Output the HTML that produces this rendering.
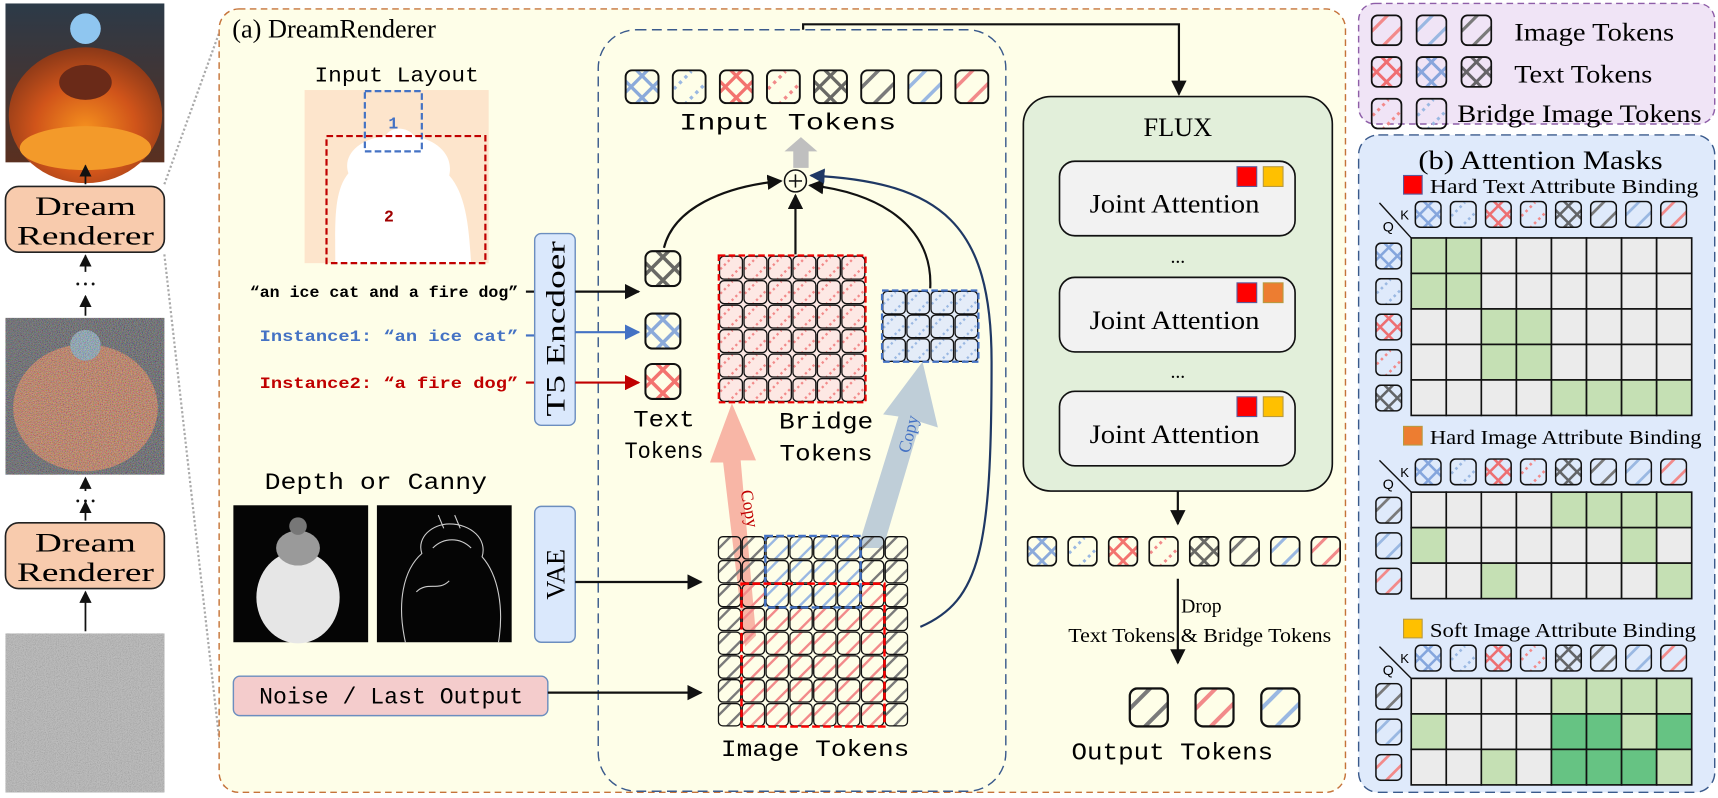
<!DOCTYPE html>
<html><head><meta charset="utf-8">
<style>
html,body{margin:0;padding:0;background:#fff;}
svg{display:block;}
.serif{font-family:"Liberation Serif",serif;}
.mono{font-family:"Liberation Mono",monospace;}
</style></head>
<body>
<svg id="s" width="1718" height="798" viewBox="0 0 1568 728" xmlns="http://www.w3.org/2000/svg">
<defs>
<clipPath id="cp"><rect x="1" y="1" width="30" height="30" rx="6"/></clipPath>
<marker id="ah" viewBox="0 0 10 10" refX="9" refY="5" markerWidth="7" markerHeight="7" orient="auto-start-reverse"><path d="M0 0 L10 5 L0 10 z" fill="#111"/></marker>
<marker id="ahb" viewBox="0 0 10 10" refX="9" refY="5" markerWidth="7" markerHeight="7" orient="auto"><path d="M0 0 L10 5 L0 10 z" fill="#4472c4"/></marker>
<marker id="ahr" viewBox="0 0 10 10" refX="9" refY="5" markerWidth="7" markerHeight="7" orient="auto"><path d="M0 0 L10 5 L0 10 z" fill="#c00000"/></marker>
<marker id="ahn" viewBox="0 0 10 10" refX="9" refY="5" markerWidth="7" markerHeight="7" orient="auto"><path d="M0 0 L10 5 L0 10 z" fill="#1f3864"/></marker>
<radialGradient id="dog" cx="0.5" cy="0.6" r="0.6"><stop offset="0" stop-color="#f5901e"/><stop offset="0.55" stop-color="#d0541a"/><stop offset="1" stop-color="#8a3818"/></radialGradient>
<linearGradient id="sky" x1="0" y1="0" x2="0" y2="1"><stop offset="0" stop-color="#2c3a48"/><stop offset="1" stop-color="#5a3020"/></linearGradient>
<filter id="noise" x="0" y="0" width="1" height="1"><feTurbulence type="fractalNoise" baseFrequency="1.2" numOctaves="1" seed="3"/><feColorMatrix type="matrix" values="0 0 0 0 0.5  0 0 0 0 0.5  0 0 0 0 0.5  0.6 0.6 0.6 0 0"/><feComposite in2="SourceGraphic" operator="in"/></filter>
<filter id="noise2" x="0" y="0" width="1" height="1"><feTurbulence type="fractalNoise" baseFrequency="1.1" numOctaves="1" seed="7"/><feColorMatrix type="matrix" values="1.6 0 0 0 -0.3  0 1.6 0 0 -0.3  0 0 1.6 0 -0.3  0 0 0 0 0.5"/><feComposite in2="SourceGraphic" operator="in"/></filter>
</defs>

<!-- left column -->
<rect x="5" y="3" width="145" height="145" fill="url(#sky)"/>
<ellipse cx="78" cy="105" rx="70" ry="62" fill="url(#dog)"/>
<ellipse cx="78" cy="135" rx="60" ry="20" fill="#f39a2a"/>
<ellipse cx="78" cy="26" rx="14" ry="14" fill="#8fc6f0"/>
<ellipse cx="78" cy="75" rx="24" ry="16" fill="#6a2a18"/>
<rect x="5" y="290" width="145" height="143" fill="#2f3038"/>
<ellipse cx="78" cy="372" rx="66" ry="58" fill="#b8562a"/>
<ellipse cx="78" cy="315" rx="14" ry="14" fill="#6a90a8"/>
<rect x="5" y="290" width="145" height="143" fill="#fff" filter="url(#noise2)"/>
<rect x="5" y="578" width="145" height="145" fill="#7a7a7a"/>
<rect x="5" y="578" width="145" height="145" fill="#fff" filter="url(#noise)"/>

<rect x="5" y="170" width="145" height="60" rx="12" fill="#f8cbad" stroke="#222" stroke-width="1.5"/>
<text x="78" y="196" class="serif" font-size="24" text-anchor="middle" textLength="92" lengthAdjust="spacingAndGlyphs">Dream</text>
<text x="78" y="223" class="serif" font-size="24" text-anchor="middle" textLength="125" lengthAdjust="spacingAndGlyphs">Renderer</text>
<rect x="5" y="477" width="145" height="60" rx="12" fill="#f8cbad" stroke="#222" stroke-width="1.5"/>
<text x="78" y="503" class="serif" font-size="24" text-anchor="middle" textLength="92" lengthAdjust="spacingAndGlyphs">Dream</text>
<text x="78" y="530" class="serif" font-size="24" text-anchor="middle" textLength="125" lengthAdjust="spacingAndGlyphs">Renderer</text>
<g stroke="#111" stroke-width="1.6" marker-end="url(#ah)">
<line x1="78" y1="168" x2="78" y2="151"/>
<line x1="78" y1="248" x2="78" y2="233"/>
<line x1="78" y1="288" x2="78" y2="270"/>
<line x1="78" y1="475" x2="78" y2="458"/>
<line x1="78" y1="448" x2="78" y2="436"/>
<line x1="78" y1="576" x2="78" y2="540"/>
</g>
<g fill="#111"><circle cx="71" cy="259" r="1.3"/><circle cx="78" cy="259" r="1.3"/><circle cx="85" cy="259" r="1.3"/>
<circle cx="71" cy="457" r="1.3"/><circle cx="78" cy="457" r="1.3"/><circle cx="85" cy="457" r="1.3"/></g>
<g stroke="#aaa" stroke-width="2" stroke-dasharray="2 2" fill="none">
<line x1="150" y1="168" x2="205" y2="16"/>
<line x1="150" y1="232" x2="205" y2="718"/>
</g>

<!-- panel a -->
<rect x="200" y="8" width="1028" height="715" rx="18" fill="#fefee8" stroke="#c5733a" stroke-width="1.3" stroke-dasharray="6 4"/>
<text x="212" y="34" class="serif" font-size="24">(a) DreamRenderer</text>

<!-- input layout -->
<text x="362" y="74" class="mono" font-size="19" text-anchor="middle" textLength="150" lengthAdjust="spacingAndGlyphs">Input Layout</text>
<rect x="278" y="82" width="168" height="158" fill="#fde5cc"/>
<path d="M306 240 C306 205 304 175 318 158 C312 140 330 126 352 124 C356 115 372 115 378 124 C400 128 414 142 410 160 C426 178 428 210 430 240 Z" fill="#fff"/>
<rect x="333" y="83" width="52" height="55" fill="none" stroke="#4472c4" stroke-width="2" stroke-dasharray="6 3"/>
<text x="359" y="117" class="mono" font-size="15" font-weight="bold" fill="#4472c4" text-anchor="middle">1</text>
<rect x="298" y="124" width="145" height="116" fill="none" stroke="#c00000" stroke-width="2" stroke-dasharray="6 3"/>
<text x="355" y="202" class="mono" font-size="15" font-weight="bold" fill="#a00000" text-anchor="middle">2</text>

<text x="473" y="271" class="mono" font-size="14" font-weight="bold" text-anchor="end" textLength="245" lengthAdjust="spacingAndGlyphs">“an ice cat and a fire dog”</text>
<text x="473" y="311" class="mono" font-size="14" font-weight="bold" fill="#4472c4" text-anchor="end" textLength="236" lengthAdjust="spacingAndGlyphs">Instance1: “an ice cat”</text>
<text x="473" y="354" class="mono" font-size="14" font-weight="bold" fill="#c00000" text-anchor="end" textLength="236" lengthAdjust="spacingAndGlyphs">Instance2: “a fire dog”</text>
<line x1="480" y1="266" x2="490" y2="266" stroke="#111" stroke-width="2"/>
<line x1="480" y1="306" x2="490" y2="306" stroke="#4472c4" stroke-width="2"/>
<line x1="480" y1="349" x2="490" y2="349" stroke="#c00000" stroke-width="2"/>

<!-- inner dashed box -->
<rect x="546" y="27" width="372" height="695" rx="35" fill="none" stroke="#3a5a8c" stroke-width="1.3" stroke-dasharray="9 5"/>

<rect x="488" y="213" width="37" height="175" rx="6" fill="#dae8fc" stroke="#6c8ebf" stroke-width="1.3"/>
<text transform="translate(515,300) rotate(-90)" class="serif" font-size="24" text-anchor="middle" textLength="160" lengthAdjust="spacingAndGlyphs">T5 Encdoer</text>
<line x1="525" y1="266" x2="583" y2="266" stroke="#111" stroke-width="2" marker-end="url(#ah)"/>
<line x1="525" y1="303" x2="583" y2="303" stroke="#4472c4" stroke-width="2" marker-end="url(#ahb)"/>
<line x1="525" y1="349" x2="583" y2="349" stroke="#c00000" stroke-width="2" marker-end="url(#ahr)"/>

<text x="606" y="389" class="mono" font-size="21" text-anchor="middle" textLength="56" lengthAdjust="spacingAndGlyphs">Text</text>
<text x="606" y="418" class="mono" font-size="21" text-anchor="middle" textLength="72" lengthAdjust="spacingAndGlyphs">Tokens</text>
<text x="754" y="391" class="mono" font-size="21" text-anchor="middle" textLength="86" lengthAdjust="spacingAndGlyphs">Bridge</text>
<text x="754" y="420" class="mono" font-size="21" text-anchor="middle" textLength="85" lengthAdjust="spacingAndGlyphs">Tokens</text>
<text x="719" y="118" class="mono" font-size="21" text-anchor="middle" textLength="198" lengthAdjust="spacingAndGlyphs">Input Tokens</text>
<path d="M724 153 L724 138 L716 138 L731 125 L746 138 L738 138 L738 153 Z" fill="#bfbfbf"/>
<circle cx="726" cy="165" r="10" fill="none" stroke="#111" stroke-width="1.4"/>
<line x1="720" y1="165" x2="732" y2="165" stroke="#111" stroke-width="1.4"/>
<line x1="726" y1="159" x2="726" y2="171" stroke="#111" stroke-width="1.4"/>

<!-- copy arrows -->
<path d="M690 580 L676 420 L690 420 L668 368 L648 422 L660 422 L680 590 Z" fill="#f4857a" opacity="0.6"/>
<path d="M783 500 L820 380 L806 378 L842 330 L856 390 L840 385 L806 500 Z" fill="#a9bdd3" opacity="0.75"/>
<text transform="translate(676,448) rotate(80)" class="serif" font-size="16" fill="#c00000">Copy</text>
<text transform="translate(830,414) rotate(-76)" class="serif" font-size="16" fill="#4472c4">Copy</text>

<!-- curves to plus -->
<path d="M606 226 C615 190 660 170 713 165" fill="none" stroke="#111" stroke-width="2" marker-end="url(#ah)"/>
<line x1="726" y1="232" x2="726" y2="178" stroke="#111" stroke-width="2" marker-end="url(#ah)"/>
<path d="M849 263 C852 205 800 175 739 169" fill="none" stroke="#111" stroke-width="2" marker-end="url(#ah)"/>
<path d="M840 572 C895 548 905 500 905 330 C905 205 860 166 740 160" fill="none" stroke="#1f3864" stroke-width="2" marker-end="url(#ahn)"/>

<!-- top routing to FLUX -->
<polyline points="733,27 733,22 1076,22 1076,86" fill="none" stroke="#111" stroke-width="2" marker-end="url(#ah)"/>

<!-- depth / canny -->
<text x="343" y="446" class="mono" font-size="21" text-anchor="middle" textLength="203" lengthAdjust="spacingAndGlyphs">Depth or Canny</text>
<rect x="213" y="461" width="123" height="125" fill="#050505"/>
<ellipse cx="272" cy="545" rx="38" ry="42" fill="#e6e6e6"/>
<ellipse cx="272" cy="500" rx="20" ry="16" fill="#9a9a9a"/>
<ellipse cx="272" cy="480" rx="8" ry="8" fill="#777"/>
<rect x="344" y="461" width="123" height="125" fill="#050505"/>
<path d="M370 586 C362 550 368 520 385 505 C380 490 395 478 410 478 C430 478 445 492 440 508 C455 525 460 555 455 586 M395 500 C405 490 420 490 430 500 M380 540 C390 530 400 540 410 530 M415 470 L420 482 M400 470 L405 482" fill="none" stroke="#ccc" stroke-width="1"/>
<rect x="488" y="462" width="37" height="124" rx="6" fill="#dae8fc" stroke="#6c8ebf" stroke-width="1.3"/>
<text transform="translate(515,524) rotate(-90)" class="serif" font-size="24" text-anchor="middle">VAE</text>
<line x1="525" y1="531" x2="640" y2="531" stroke="#111" stroke-width="2" marker-end="url(#ah)"/>
<rect x="213" y="617" width="287" height="36" rx="6" fill="#f4cccc" stroke="#6c8ebf" stroke-width="1.3"/>
<text x="357" y="642" class="mono" font-size="21" text-anchor="middle" textLength="241" lengthAdjust="spacingAndGlyphs">Noise / Last Output</text>
<line x1="500" y1="632" x2="640" y2="632" stroke="#111" stroke-width="2" marker-end="url(#ah)"/>
<text x="744" y="690" class="mono" font-size="21" text-anchor="middle" textLength="172" lengthAdjust="spacingAndGlyphs">Image Tokens</text>

<!-- FLUX -->
<rect x="934" y="88" width="282" height="360" rx="25" fill="#e2efda" stroke="#111" stroke-width="1.5"/>
<text x="1075" y="124" class="serif" font-size="24" text-anchor="middle">FLUX</text>
<text x="1075" y="240" class="serif" font-size="18" text-anchor="middle">...</text>
<text x="1075" y="345" class="serif" font-size="18" text-anchor="middle">...</text>
<line x1="1075" y1="448" x2="1075" y2="478" stroke="#111" stroke-width="2" marker-end="url(#ah)"/>
<line x1="1075" y1="528" x2="1075" y2="605" stroke="#111" stroke-width="2" marker-end="url(#ah)"/>
<text x="1078" y="559" class="serif" font-size="18">Drop</text>
<text x="1095" y="586" class="serif" font-size="18" text-anchor="middle" textLength="240" lengthAdjust="spacingAndGlyphs">Text Tokens &amp; Bridge Tokens</text>
<text x="1070" y="693" class="mono" font-size="22" text-anchor="middle" textLength="184" lengthAdjust="spacingAndGlyphs">Output Tokens</text>

<!-- legend -->
<rect x="1240" y="3" width="325" height="110" rx="15" fill="#f0e4f6" stroke="#8e5ea8" stroke-width="1.3" stroke-dasharray="6 4"/>
<text x="1382" y="37" class="serif" font-size="23" textLength="146" lengthAdjust="spacingAndGlyphs">Image Tokens</text>
<text x="1382" y="75" class="serif" font-size="23" textLength="126" lengthAdjust="spacingAndGlyphs">Text Tokens</text>
<text x="1330" y="111" class="serif" font-size="23" textLength="223" lengthAdjust="spacingAndGlyphs">Bridge Image Tokens</text>

<!-- panel b -->
<rect x="1240" y="123" width="325" height="600" rx="18" fill="#dfeafb" stroke="#3a5a8c" stroke-width="1.3" stroke-dasharray="9 5"/>
<text x="1406" y="154" class="serif" font-size="24" text-anchor="middle" textLength="223" lengthAdjust="spacingAndGlyphs">(b) Attention Masks</text>
<rect x="1281" y="160" width="17" height="17" fill="#ff0000" stroke="#5a5a9a"/>
<text x="1305" y="176" class="serif" font-size="18" textLength="245" lengthAdjust="spacingAndGlyphs">Hard Text Attribute Binding</text>
<rect x="1281" y="389" width="17" height="17" fill="#ed7d31" stroke="#b89a40"/>
<text x="1305" y="405" class="serif" font-size="18" textLength="248" lengthAdjust="spacingAndGlyphs">Hard Image Attribute Binding</text>
<rect x="1281" y="565" width="17" height="17" fill="#ffc000" stroke="#b89a40"/>
<text x="1305" y="581" class="serif" font-size="18" textLength="243" lengthAdjust="spacingAndGlyphs">Soft Image Attribute Binding</text>
<g id="dyn"></g>
</svg>
<script>
var cols={r:["#f05050","#f28a8a"],u:["#6e95d6","#9ab8e2"],k:["#444","#7a7a7a"]};
var defs=document.querySelector('defs');var sd='';
for(var c in cols){
 var tc=cols[c][0], ic=cols[c][1];
 var box='<rect x="1" y="1" width="30" height="30" rx="6" fill="none" stroke="#111" stroke-width="1.8"/>';
 sd+='<symbol id="i'+c+'" viewBox="0 0 32 32"><g clip-path="url(#cp)" stroke="'+ic+'" stroke-width="3.2"><line x1="-2" y1="20" x2="20" y2="-2"/><line x1="10" y1="34" x2="34" y2="10"/></g>'+box+'</symbol>';
 sd+='<symbol id="t'+c+'" viewBox="0 0 32 32"><g clip-path="url(#cp)" stroke="'+tc+'" stroke-width="3" opacity="0.8"><line x1="-2" y1="24" x2="24" y2="-2"/><line x1="8" y1="34" x2="34" y2="8"/><line x1="8" y1="-2" x2="34" y2="24"/><line x1="-2" y1="8" x2="24" y2="34"/></g>'+box+'</symbol>';
 sd+='<symbol id="b'+c+'" viewBox="0 0 32 32"><g clip-path="url(#cp)" stroke="'+ic+'" stroke-width="3" stroke-dasharray="3 4"><line x1="2" y1="18" x2="18" y2="2"/><line x1="12" y1="32" x2="32" y2="12"/></g>'+box+'</symbol>';
}
defs.insertAdjacentHTML('beforeend',sd);
var o='';
function T(id,x,y,s){o+='<use href="#'+id+'" x="'+x+'" y="'+y+'" width="'+s+'" height="'+s+'"/>';}
var seq=['tu','bu','tr','br','tk','ik','iu','ir'];
for(var i=0;i<8;i++)T(seq[i],570+i*43,63,32);
for(var i=0;i<8;i++)T(seq[i],937+i*37,489,28);
T('ik',1030,627,37);T('ir',1090,627,37);T('iu',1150,627,37);
T('tk',588,228,34);T('tu',588,285,34);T('tr',588,331,34);
o+='<rect x="656" y="233" width="134" height="134" fill="#fde8e4"/>';
for(var r=0;r<6;r++)for(var c=0;c<6;c++)T('br',656+c*22.33,233+r*22.33,22.33);
o+='<rect x="656" y="233" width="134" height="134" fill="none" stroke="#e00" stroke-width="2" stroke-dasharray="6 3"/>';
o+='<rect x="805" y="265" width="88" height="65" fill="#e4ecf8"/>';
for(var r=0;r<3;r++)for(var c=0;c<4;c++)T('bu',805+c*22,265+r*21.7,22);
o+='<rect x="805" y="265" width="88" height="65" fill="none" stroke="#4472c4" stroke-width="2" stroke-dasharray="6 3"/>';
var cs=21.75,gx=655,gy=489;
for(var r=0;r<8;r++)for(var c=0;c<8;c++){
 var id='ik';
 if(r<=2&&c>=2&&c<=5)id='iu';else if(r>=2&&c>=1&&c<=6)id='ir';
 T(id,gx+c*cs,gy+r*cs,cs);
}
o+='<rect x="'+(gx+2*cs)+'" y="'+gy+'" width="'+(4*cs)+'" height="'+(3*cs)+'" fill="none" stroke="#4472c4" stroke-width="2.2" stroke-dasharray="7 3"/>';
o+='<rect x="'+(gx+cs)+'" y="'+(gy+2*cs)+'" width="'+(6*cs)+'" height="'+(6*cs)+'" fill="none" stroke="#f00" stroke-width="2.2" stroke-dasharray="7 3"/>';
var jy=[147,253,357],sq=['#ffc000','#ed7d31','#ffc000'];
for(var j=0;j<3;j++){
 o+='<rect x="967" y="'+jy[j]+'" width="215" height="68" rx="14" fill="#f2f2f2" stroke="#111" stroke-width="1.5"/>';
 o+='<rect x="1129" y="'+(jy[j]+5)+'" width="18" height="18" fill="#f00" stroke="#5a5a9a"/>';
 o+='<rect x="1153" y="'+(jy[j]+5)+'" width="18" height="18" fill="'+sq[j]+'" stroke="#b89a40"/>';
 o+='<text x="1072" y="'+(jy[j]+47)+'" class="serif" font-size="24" text-anchor="middle" textLength="155" lengthAdjust="spacingAndGlyphs">Joint Attention</text>';
}
T('ir',1251,13,29);T('iu',1292,13,29);T('ik',1333,13,29);
T('tr',1251,51,29);T('tu',1292,51,29);T('tk',1333,51,29);
T('br',1251,89,29);T('bu',1292,89,29);
var G='#c5e0b4',D='#66c383',E='#ebebeb';
function grid(hy,gy0,qs,fill){
 for(var i=0;i<8;i++)T(seq[i],1291+i*32,hy,25);
 o+='<line x1="1259" y1="'+(hy+2)+'" x2="1288" y2="'+(gy0)+'" stroke="#111" stroke-width="1.3"/>';
 o+='<text x="1278" y="'+(hy+17)+'" font-family="Liberation Sans,sans-serif" font-size="12">K</text>';
 o+='<text x="1262" y="'+(hy+28)+'" font-family="Liberation Sans,sans-serif" font-size="13">Q</text>';
 for(var r=0;r<qs.length;r++){
  T(qs[r],1255,gy0+r*32.4+4,25);
  for(var c=0;c<8;c++){
   o+='<rect x="'+(1288+c*32)+'" y="'+(gy0+r*32.4)+'" width="32" height="32.4" fill="'+fill[r][c]+'" stroke="#111" stroke-width="1.5"/>';
  }
 }
}
function row(s){return s.split('').map(function(ch){return ch=='g'?G:ch=='d'?D:E;});}
grid(183,217,['tu','bu','tr','br','tk'],[row('gg......'),row('gg......'),row('..gg....'),row('..gg....'),row('....gggg')]);
grid(418,449,['ik','iu','ir'],[row('....gggg'),row('g.....g.'),row('..g....g')]);
grid(588,619,['ik','iu','ir'],[row('....gggg'),row('g...ddgd'),row('..g.dddg')]);
document.getElementById('dyn').innerHTML=o;
</script>
</body></html>
